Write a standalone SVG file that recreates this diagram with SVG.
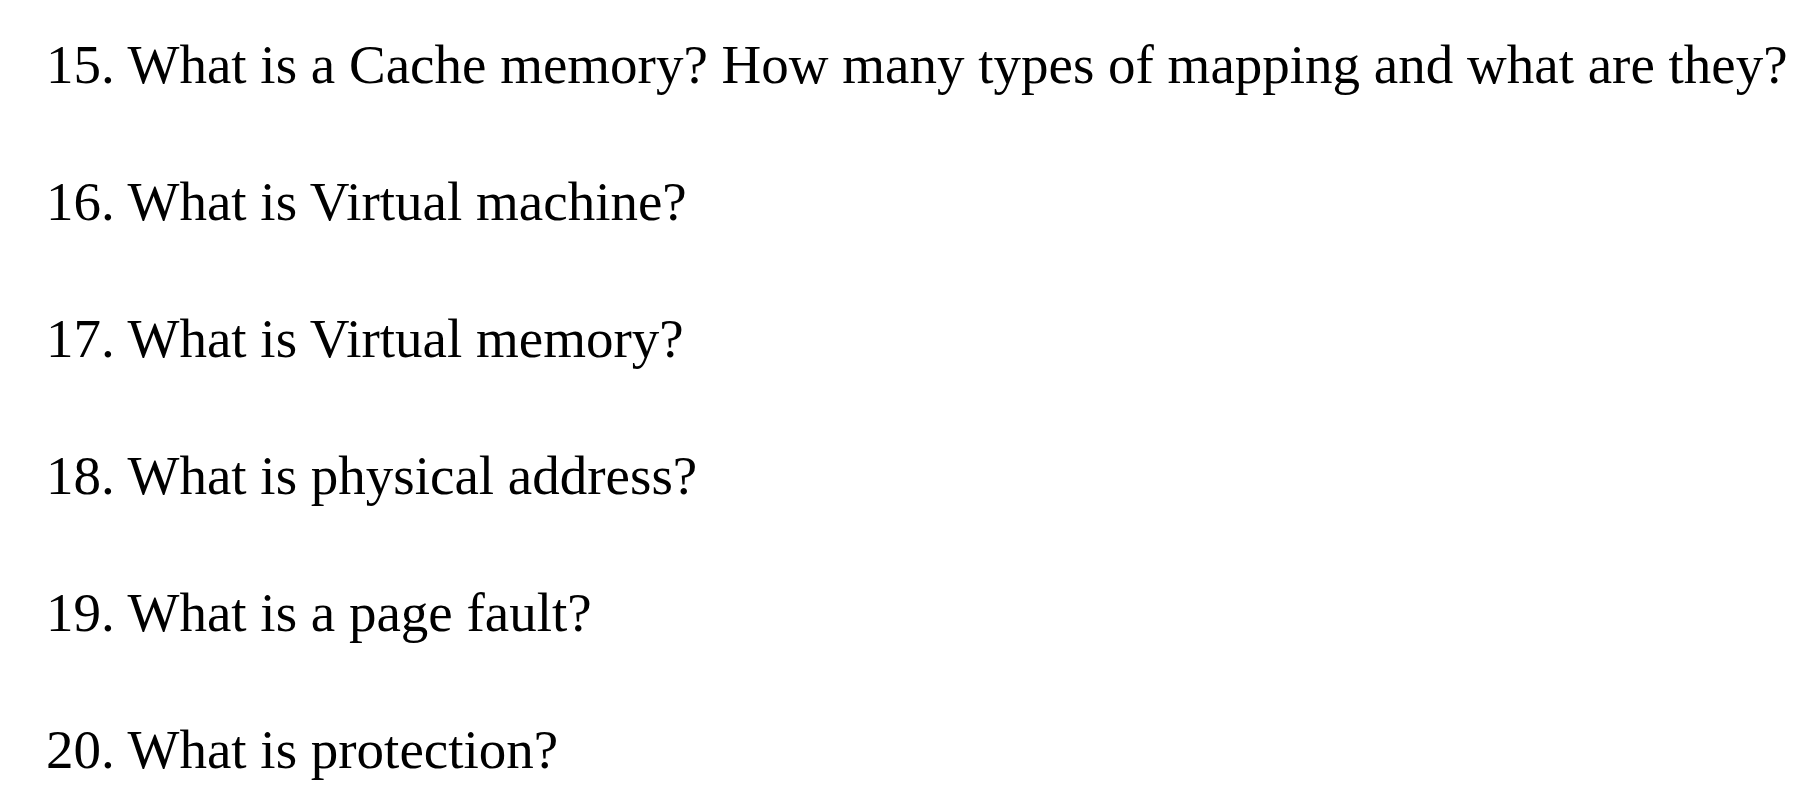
<svg xmlns="http://www.w3.org/2000/svg" width="1802" height="802" viewBox="0 0 1802 802">
<style>
.q{font-family:"Liberation Serif","Times New Roman",serif;font-size:55px;fill:#000}
</style>
<rect width="1802" height="802" fill="#fff"/>
<g id="q15"><text class="q" x="46" y="83">15. What is a Cache memory? How many types of mapping and what are they?</text></g>
<g id="q16"><text class="q" x="46" y="220">16. What is Virtual machine?</text></g>
<g id="q17"><text class="q" x="46" y="357">17. What is Virtual memory?</text></g>
<g id="q18"><text class="q" x="46" y="494">18. What is physical address?</text></g>
<g id="q19"><text class="q" x="46" y="631">19. What is a page fault?</text></g>
<g id="q20"><text class="q" x="46" y="768">20. What is protection?</text></g>
<g id="connectors"/>
</svg>
